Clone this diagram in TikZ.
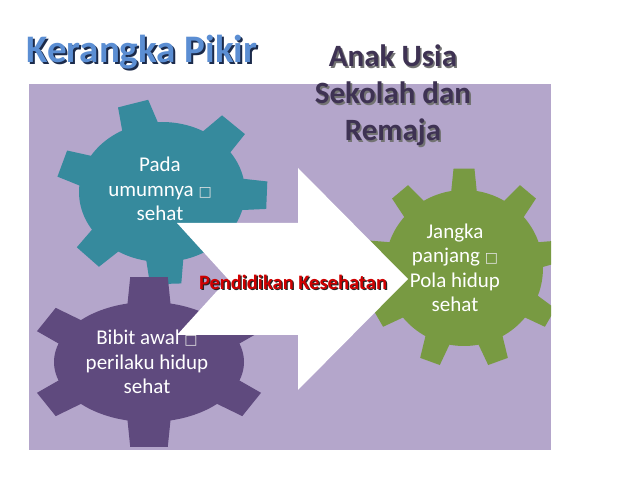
\documentclass[tikz,border=0pt]{standalone}
\usepackage{fontspec}
\setmainfont{Carlito}
\newfontfamily\symf{DejaVu Sans}
\definecolor{bgpurple}{HTML}{B4A6CB}
\definecolor{gteal}{HTML}{368A9D}
\definecolor{gpurple}{HTML}{5F4A7E}
\definecolor{ggreen}{HTML}{789A42}
\definecolor{tblue}{HTML}{5B8ED3}
\definecolor{tnavy}{HTML}{1B2A4A}
\definecolor{tdark}{HTML}{3E3253}
\definecolor{tred}{HTML}{D00000}
\newcommand{\tofu}{{\symf\fontsize{14}{14}\selectfont\color{white!80!gray}□}}
\newcommand{\shtext}[3]{\rlap{\kern#3pt\raisebox{-#3pt}{\color{#1}#2}}#2}
\newcommand{\gearshape}[7]{%
  \foreach \a in {#5}{%
    \fill ({cos(\a-#6)*0.9*#1},{-sin(\a-#6)*0.9*#2}) -- ({cos(\a-#7)*#3},{-sin(\a-#7)*#4}) -- ({cos(\a+#7)*#3},{-sin(\a+#7)*#4}) -- ({cos(\a+#6)*0.9*#1},{-sin(\a+#6)*0.9*#2}) -- cycle;}
  \fill (0,0) ellipse [x radius=#1pt, y radius=#2pt];}
\tikzset{
  geartext/.style={text=white, font=\fontsize{21}{24.5}\selectfont, align=center},
  titletext/.style={font=\bfseries\fontsize{39}{39}\selectfont, anchor=base west},
  subtext/.style={font=\bfseries\fontsize{31}{37}\selectfont, align=center},
  arrowtext/.style={font=\bfseries\fontsize{20.5}{20.5}\selectfont}
}
\begin{document}
\begin{tikzpicture}[x=1pt,y=-1pt]
\useasboundingbox (0,0) rectangle (638,478);
\fill[white] (0,0) rectangle (638,478);
\fill[bgpurple] (29,84) rectangle (551,450);
\begin{scope}
\clip (29,84) rectangle (551,450);
% teal gear
\begin{scope}[shift={(162,192)}, fill=gteal]
\gearshape{83}{70}{106}{93}{106,47,-2,-45,-88,-135,162}{15}{8.5}
\end{scope}
% purple gear
\begin{scope}[shift={(149,362)}, fill=gpurple]
\gearshape{95}{60}{120}{86}{90,30,-30,-90,-150,150}{15}{9}
\end{scope}
% green gear
\begin{scope}[shift={(464,268)}, fill=ggreen]
\gearshape{79}{78}{100}{100}{90,50,10,-30,-70,-110,-150,170,130}{11}{6}
\end{scope}
\end{scope}
% arrow
\coordinate (at) at (177,223);
\coordinate (an) at (228,279);
\coordinate (ab) at (177,335);
\coordinate (st) at (298,223);
\coordinate (ht) at (298,168);
\coordinate (tip) at (408,279);
\coordinate (hb) at (298,390);
\coordinate (sb) at (298,335);
\fill[white] (at) -- (st) -- (ht) -- (tip) -- (hb) -- (sb) -- (ab) -- (an) -- cycle;
% gear texts
\node[geartext] (gA) at (160,189) {Pada\\umumnya \tofu\\sehat};
\node[geartext] (gB) at (147,362) {Bibit awal \tofu\\perilaku hidup\\sehat};
\node[geartext] (gC) at (455,268) {Jangka\\panjang \tofu\\Pola hidup\\sehat};
% arrow label
\node[arrowtext, text=tred] (lbl) at (293,283) {\shtext{black!85}{Pendidikan Kesehatan}{1.3}};
% titles
\node[titletext, text=tblue] (title) at (23,63) {\shtext{tnavy}{Kerangka Pikir}{2}};
\node[subtext, text=tdark] (sub) at (393,96.5) {\shtext{black!55}{Anak Usia}{1.6}\\\shtext{black!55}{Sekolah dan}{1.6}\\\shtext{black!55}{Remaja}{1.6}};
\end{tikzpicture}
\end{document}
